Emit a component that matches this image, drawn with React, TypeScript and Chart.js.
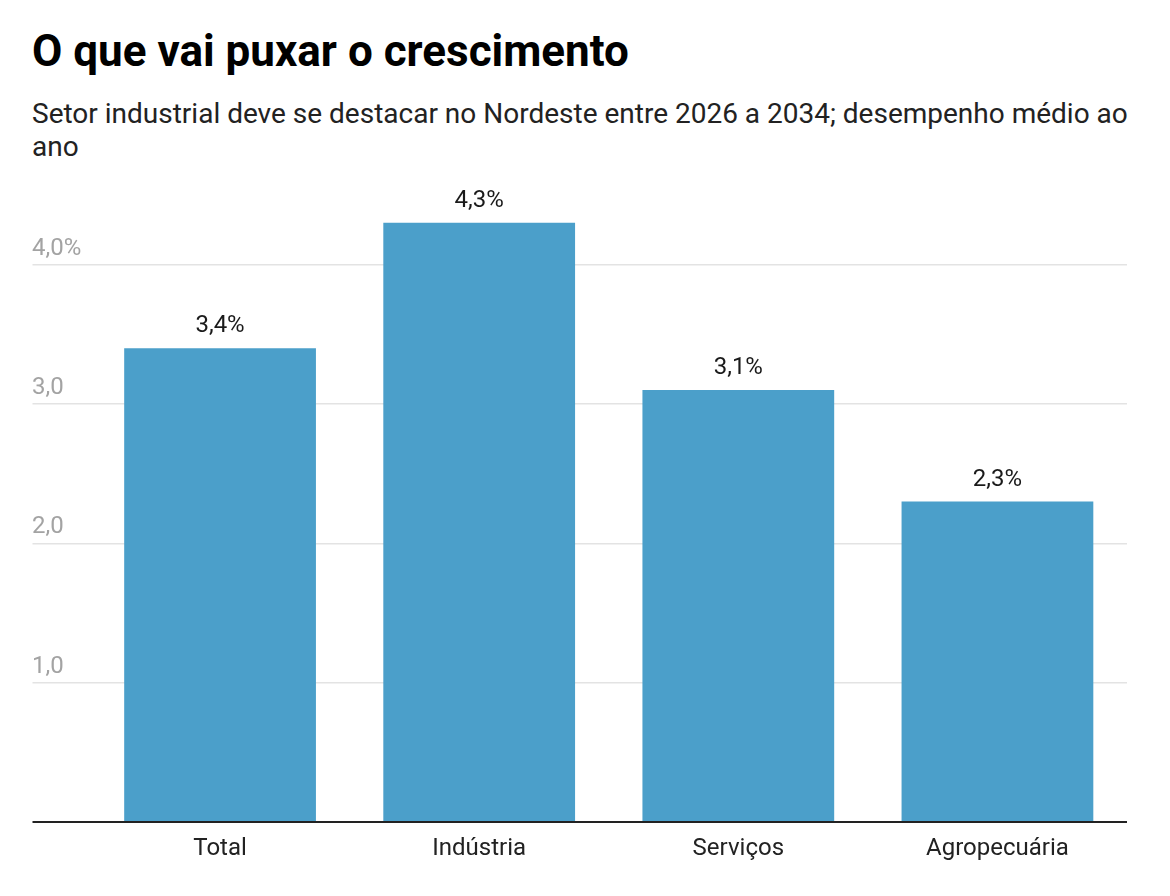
import React, { useEffect, useRef } from "react";
import { Chart, registerables } from "chart.js";

Chart.register(...registerables);

const categories = ["Total", "Indústria", "Serviços", "Agropecuária"];
const values = [3.4, 4.3, 3.1, 2.3];
const yTicks = [0, 1, 2, 3, 4];
const yMax = 4.5;

const FONT = "Roboto, 'Noto Sans', sans-serif";

function fmt(v: number, digits = 1) {
  return v.toFixed(digits).replace(".", ",");
}

const barLabels = {
  id: "barLabels",
  afterDatasetsDraw(chart: any) {
    const ctx = chart.ctx;
    const meta = chart.getDatasetMeta(0);
    ctx.save();
    ctx.font = `400 24px ${FONT}`;
    ctx.fillStyle = "#1a1a1a";
    ctx.textAlign = "center";
    ctx.textBaseline = "alphabetic";
    meta.data.forEach((bar: any, i: number) => {
      ctx.fillText(fmt(values[i]) + "%", bar.x, bar.y - 16);
    });
    ctx.restore();
  },
};

export default function App() {
  const ref = useRef<HTMLCanvasElement>(null);
  useEffect(() => {
    if (!ref.current) return;
    const chart = new Chart(ref.current, {
      type: "bar",
      data: {
        labels: categories,
        datasets: [
          {
            data: values,
            backgroundColor: "#4b9fca",
            borderWidth: 0,
            categoryPercentage: 1,
            barPercentage: 0.74,
          },
        ],
      },
      options: {
        animation: false,
        responsive: true,
        maintainAspectRatio: false,
        layout: { padding: { top: 17, left: 24, right: 35, bottom: 0 } },
        plugins: {
          legend: { display: false },
          tooltip: { enabled: false },
          title: { display: false },
        },
        scales: {
          x: {
            offset: true,
            grid: { display: false, drawTicks: false },
            border: { display: false },
            ticks: {
              color: "#222",
              font: { family: FONT, size: 24 },
              padding: 13,
            },
            afterFit: (scale: any) => {
              scale.height = 66;
            },
          },
          y: {
            min: 0,
            max: yMax,
            border: { display: false },
            afterBuildTicks: (scale: any) => {
              scale.ticks = yTicks.map((v) => ({ value: v }));
            },
            afterFit: (scale: any) => {
              scale.width = 58.5;
            },
            grid: {
              drawTicks: true,
              tickLength: 58,
              color: (c: any) => (c.tick && c.tick.value === 0 ? "#222" : "#e3e3e3"),
              lineWidth: (c: any) => (c.tick && c.tick.value === 0 ? 2 : 1.5),
            },
            ticks: {
              crossAlign: "far",
              labelOffset: -16,
              padding: 0,
              color: "#a3a3a3",
              font: { family: FONT, size: 24 },
              callback: (v: any) => {
                const n = Number(v);
                if (n === 0) return "";
                return n === 4 ? fmt(n) + "%" : fmt(n);
              },
            },
          },
        },
      },
      plugins: [barLabels],
    });
    return () => chart.destroy();
  }, []);

  return (
    <div style={{ position: "relative", width: 1154, height: 880, fontFamily: FONT, background: "#fff" }}>
      <div
        style={{
          position: "absolute",
          left: 24,
          top: 17,
          fontSize: 44,
          fontWeight: 700,
          color: "#000",
          whiteSpace: "nowrap",
          lineHeight: "52px",
        }}
      >
        O que vai puxar o crescimento
      </div>
      <div
        style={{
          position: "absolute",
          left: 24,
          top: 89,
          fontSize: 28,
          color: "#222",
          whiteSpace: "nowrap",
          lineHeight: "33px",
        }}
      >
        Setor industrial deve se destacar no Nordeste entre 2026 a 2034; desempenho médio ao
        <br />
        ano
      </div>
      <div style={{ position: "absolute", left: 0, top: 170, width: 1154, height: 710 }}>
        <canvas ref={ref} />
      </div>
    </div>
  );
}
